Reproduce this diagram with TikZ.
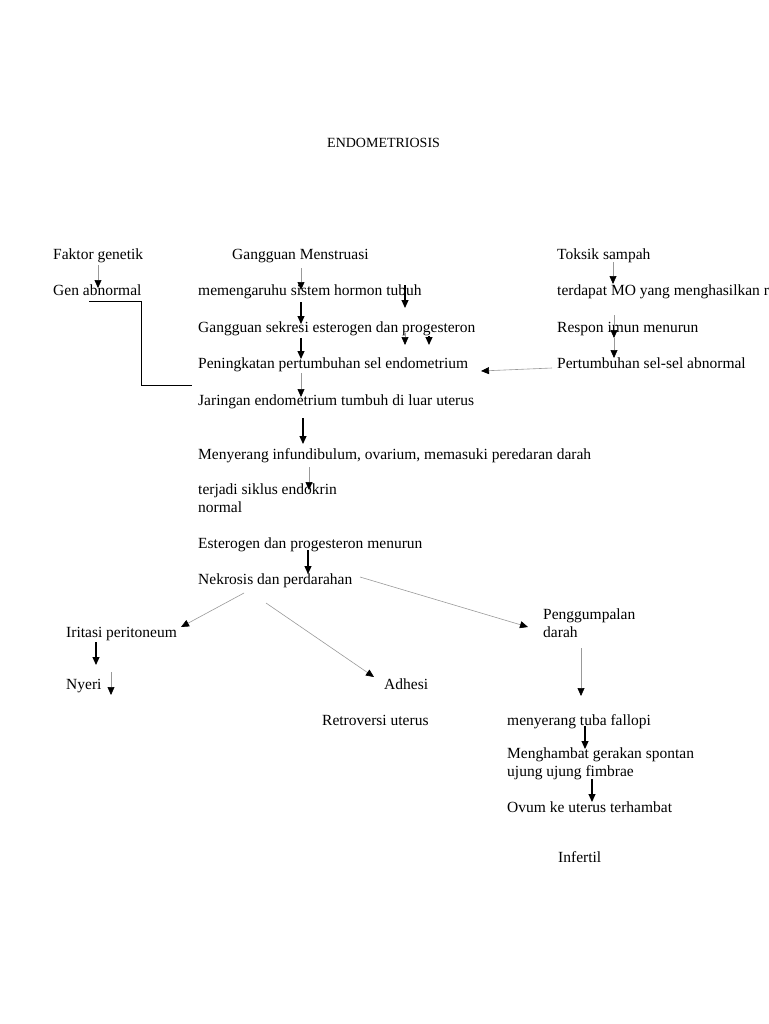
\documentclass[tikz,border=0pt]{standalone}
\usepackage{fontspec}
\setmainfont{Liberation Serif}
\usetikzlibrary{arrows.meta}
\tikzset{
  txt/.style={anchor=base west, inner sep=0pt, font=\fontsize{15.5}{18}\selectfont, align=left},
  blk/.style={draw=black, line width=1.1pt, -{Triangle[width=7pt,length=8pt]}},
  gry/.style={draw=black!40, line width=0.6pt, -{Triangle[width=7pt,length=8pt,color=black,fill=black]}},
  conn/.style={draw=black, line width=0.9pt}
}
\begin{document}
\begin{tikzpicture}[x=1pt,y=-1pt]
\useasboundingbox (0,0) rectangle (768,1024);
% texts (base west at baseline of last line)
\node[txt, font=\fontsize{14}{17}\selectfont] (title) at (327,148) {ENDOMETRIOSIS};
\node[txt] (fg) at (53,259) {Faktor genetik};
\node[txt] (gm) at (232,259) {Gangguan Menstruasi};
\node[txt] (ts) at (557,259) {Toksik sampah};
\node[txt] (ga) at (53,295) {Gen abnormal};
\node[txt] (msh) at (198,295) {memengaruhu sistem hormon tubuh};
\node[txt] (mo) at (557,295) {terdapat MO yang menghasilkan r};
\node[txt] (gse) at (198,332) {Gangguan sekresi esterogen dan progesteron};
\node[txt] (rim) at (557,332) {Respon imun menurun};
\node[txt] (pps) at (198,368) {Peningkatan pertumbuhan sel endometrium};
\node[txt] (psa) at (557,368) {Pertumbuhan sel-sel abnormal};
\node[txt] (jet) at (198,405) {Jaringan endometrium tumbuh di luar uterus};
\node[txt] (mio) at (198,459) {Menyerang infundibulum, ovarium, memasuki peredaran darah};
\node[txt] (tse) at (198,512) {terjadi siklus endokrin\\normal};
\node[txt] (epm) at (198,548) {Esterogen dan progesteron menurun};
\node[txt] (ndp) at (198,584) {Nekrosis dan perdarahan};
\node[txt] (ip) at (66,637) {Iritasi peritoneum};
\node[txt] (pd) at (543,637) {Penggumpalan\\darah};
\node[txt] (ny) at (66,689) {Nyeri};
\node[txt] (ad) at (384,689) {Adhesi};
\node[txt] (ru) at (322,725) {Retroversi uterus};
\node[txt] (mtf) at (507,725) {menyerang tuba fallopi};
\node[txt] (mgs) at (507,776) {Menghambat gerakan spontan\\ujung ujung fimbrae};
\node[txt] (okt) at (507,812) {Ovum ke uterus terhambat};
\node[txt] (inf) at (558,862) {Infertil};
% connector coordinates
\coordinate (fgA) at (98,265);   \coordinate (gaA) at (98,288);
\coordinate (ga1) at (89,301);   \coordinate (ga2) at (141,301);
\coordinate (ga3) at (141,385);  \coordinate (ga4) at (192,385);
\coordinate (gmA) at (301,268);  \coordinate (mshA) at (301,290);
\coordinate (mshB) at (301,302); \coordinate (gseA) at (301,324);
\coordinate (gseB) at (301,338); \coordinate (ppsA) at (301,359);
\coordinate (ppsB) at (301,373); \coordinate (jetA) at (301,397);
\coordinate (r1a) at (405,285);  \coordinate (r1b) at (405,308);
\coordinate (r2a) at (405,333);  \coordinate (r2b) at (405,345);
\coordinate (r3a) at (429,336);  \coordinate (r3b) at (429,345);
\coordinate (tsA) at (613,262);  \coordinate (moA) at (613,284);
\coordinate (rimA) at (614,315); \coordinate (rimB) at (614,338);
\coordinate (psaA) at (614,358);
\coordinate (psaL) at (552,368); \coordinate (ppsR) at (481,371);
\coordinate (jetB) at (303,418); \coordinate (mioA) at (303,444);
\coordinate (mioB) at (309,467); \coordinate (tseA) at (309,490);
\coordinate (epmB) at (308,550); \coordinate (ndpA) at (308,574);
\coordinate (ndpR) at (360,577); \coordinate (pdA) at (528,627);
\coordinate (ndpL) at (244,593); \coordinate (ipA) at (181,627);
\coordinate (ndpM) at (266,603); \coordinate (adA) at (374,677);
\coordinate (ipB) at (96,642);   \coordinate (nyA) at (96,665);
\coordinate (nyB) at (111,672);  \coordinate (nyC) at (111,695);
\coordinate (pdB) at (581,648);  \coordinate (mtfA) at (581,696);
\coordinate (mtfB) at (585,726); \coordinate (mgsA) at (585,749);
\coordinate (mgsB) at (592,779); \coordinate (okA) at (592,802);
% connectors
\draw[gry] (fgA) -- (gaA);
\draw[conn] (ga1) -- (ga2) -- (ga3) -- (ga4);
\draw[gry] (gmA) -- (mshA);
\draw[blk] (mshB) -- (gseA);
\draw[blk] (gseB) -- (ppsA);
\draw[gry] (ppsB) -- (jetA);
\draw[blk] (r1a) -- (r1b);
\draw[gry] (r2a) -- (r2b);
\draw[blk] (r3a) -- (r3b);
\draw[gry] (tsA) -- (moA);
\draw[gry] (rimA) -- (rimB);
\draw[gry] (rimB) -- (psaA);
\draw[gry] (psaL) -- (ppsR);
\draw[blk] (jetB) -- (mioA);
\draw[gry] (mioB) -- (tseA);
\draw[blk] (epmB) -- (ndpA);
\draw[gry] (ndpR) -- (pdA);
\draw[gry] (ndpL) -- (ipA);
\draw[gry] (ndpM) -- (adA);
\draw[blk] (ipB) -- (nyA);
\draw[gry] (nyB) -- (nyC);
\draw[gry] (pdB) -- (mtfA);
\draw[blk] (mtfB) -- (mgsA);
\draw[blk] (mgsB) -- (okA);
\end{tikzpicture}
\end{document}
